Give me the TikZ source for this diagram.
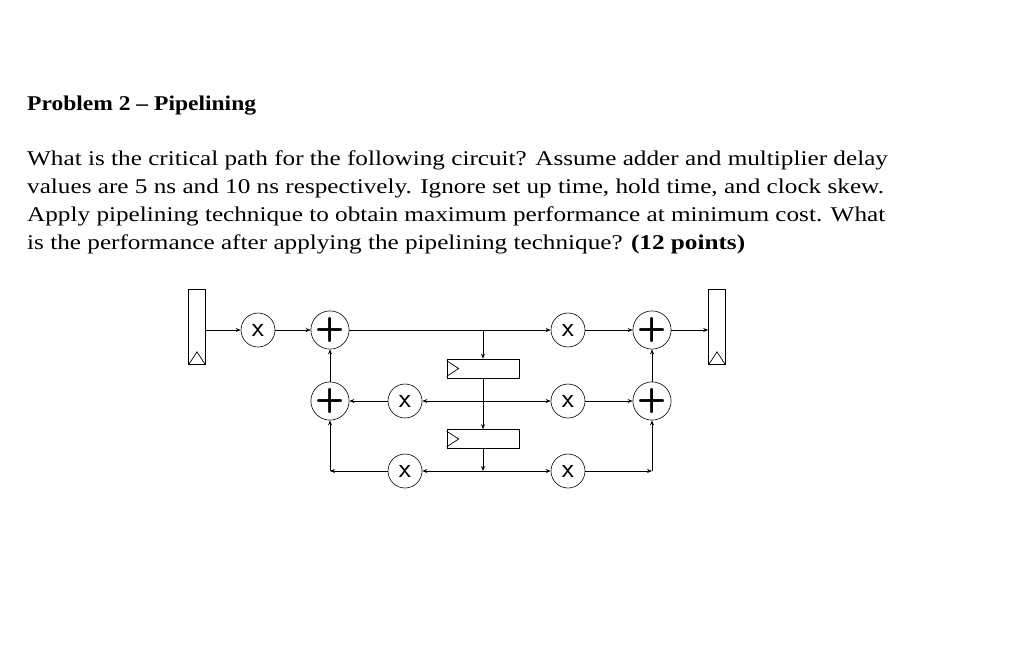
\documentclass[tikz,border=0pt]{standalone}
\usepackage{fontspec}
\setmainfont{Liberation Serif}
\usetikzlibrary{arrows.meta}
\begin{document}
\begin{tikzpicture}[x=1pt,y=-1pt,
  op/.style={circle,draw,line width=0.6pt,minimum size=34pt,inner sep=0pt},
  txt/.style={anchor=base west,inner sep=0pt,font=\fontsize{21}{21}\selectfont},
  w/.style={line width=0.7pt},
  a/.style={w,-{Stealth[length=5pt,width=4pt]}}]
\useasboundingbox (0,0) rectangle (1023,654);
\node[txt,font=\fontsize{21}{21}\selectfont\bfseries] (t) at (27,110) {\scalebox{1.12}[1]{Problem 2 – Pipelining}};
\node[txt] (l1) at (27,165) {\scalebox{1.2}[1]{What is the critical path for the following circuit? Assume adder and multiplier delay}};
\node[txt] (l2) at (27,193) {\scalebox{1.2}[1]{values are 5 ns and 10 ns respectively. Ignore set up time, hold time, and clock skew.}};
\node[txt] (l3) at (27,221) {\scalebox{1.2}[1]{Apply pipelining technique to obtain maximum performance at minimum cost. What}};
\node[txt] (l4) at (27,249) {\scalebox{1.2}[1]{is the performance after applying the pipelining technique? \textbf{(12 points)}}};
% registers
\node[draw,w,minimum width=17pt,minimum height=75pt,inner sep=0pt] (rl) at (197,327) {};
\node[draw,w,minimum width=17pt,minimum height=75pt,inner sep=0pt] (rr) at (717,327) {};
\draw[w] ([xshift=1pt,yshift=1pt]rl.south west) -- ([yshift=13pt]rl.south) -- ([xshift=-1pt,yshift=1pt]rl.south east);
\draw[w] ([xshift=1pt,yshift=1pt]rr.south west) -- ([yshift=13pt]rr.south) -- ([xshift=-1pt,yshift=1pt]rr.south east);
\node[draw,w,minimum width=72pt,minimum height=19pt,inner sep=0pt] (r1) at (483,368.5) {};
\node[draw,w,minimum width=72pt,minimum height=19pt,inner sep=0pt] (r2) at (483,439) {};
\draw[w] ([yshift=-2pt]r1.north west) -- ([xshift=12pt]r1.west) -- ([yshift=2pt]r1.south west);
\draw[w] ([yshift=-2pt]r2.north west) -- ([xshift=12pt]r2.west) -- ([yshift=2pt]r2.south west);
% operators
\newcommand{\mulsym}{\fontsize{28}{28}\selectfont\sffamily x}
\newcommand{\addsym}{\fontsize{34}{34}\selectfont\sffamily\bfseries\raisebox{-1pt}{+}}
\node[op] (m1) at (258,330) {\mulsym};
\node[op] (a1) at (330,330) {\addsym};
\node[op] (m2) at (568,330) {\mulsym};
\node[op] (a2) at (652,330) {\addsym};
\node[op] (a3) at (330,401) {\addsym};
\node[op] (m3) at (405,401) {\mulsym};
\node[op] (m4) at (568,401) {\mulsym};
\node[op] (a4) at (652,401) {\addsym};
\node[op] (m5) at (405,471) {\mulsym};
\node[op] (m6) at (568,471) {\mulsym};
\coordinate (j1) at (483,330);
\coordinate (j2) at (483,401);
\coordinate (j3) at (483,471);
\coordinate (cl) at (330,471);
\coordinate (cr) at (652,471);
% wires
\draw[a] (rl.east |- m1) -- (m1);
\draw[a] (m1) -- (a1);
\draw[a] (a1) -- (m2);
\draw[a] (m2) -- (a2);
\draw[a] (a2) -- (rr.west |- a2);
\draw[a] (j1) -- (r1.north);
\draw[a] (r1.south) -- (r2.north);
\draw[a] (j2) -- (m3);
\draw[a] (j2) -- (m4);
\draw[a] (m3) -- (a3);
\draw[a] (a3) -- (a1);
\draw[a] (m4) -- (a4);
\draw[a] (a4) -- (a2);
\draw[a] (r2.south) -- (j3);
\draw[a] (j3) -- (m5);
\draw[a] (j3) -- (m6);
\draw[a] (m5) -- (cl);
\draw[a] (cl) -- (a3);
\draw[a] (m6) -- (cr);
\draw[a] (cr) -- (a4);
\end{tikzpicture}
\end{document}
